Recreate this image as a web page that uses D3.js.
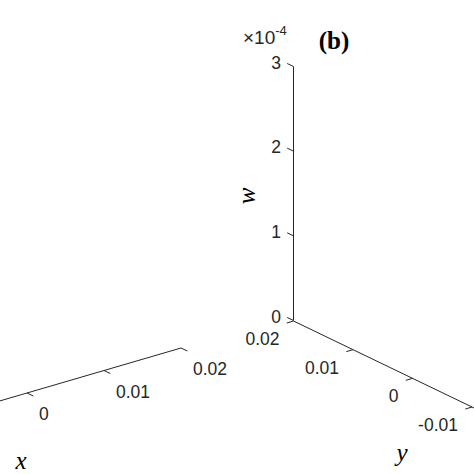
<!DOCTYPE html>
<html><head><meta charset="utf-8">
<script src="https://cdn.jsdelivr.net/npm/d3@7"></script>
<style>html,body{margin:0;padding:0;background:#fff;overflow:hidden}</style>
</head><body>
<svg id="chart" width="474" height="474"></svg>
<script>
// Data
const xTicks = [0, 0.01, 0.02];
const xTickLabels = ["0", "0.01", "0.02"];
const yTicks = [0.02, 0.01, 0, -0.01];
const yTickLabels = ["0.02", "0.01", "0", "-0.01"];
const wTicks = [0, 1, 2, 3];
const wTickLabels = ["0", "1", "2", "3"];
const xDomain = [-0.01, 0.02];
const yDomain = [0.02, -0.011];
const wDomain = [0, 3];

const svg = d3.select("#chart");
svg.append("rect").attr("width", 474).attr("height", 474).attr("fill", "#fff");
const axisColor = "#262626";
const tickFont = "'Liberation Sans', Arial, sans-serif";
const labelFont = "'Liberation Serif', 'Times New Roman', serif";

// projected scales (oblique 3D view)
const xsX = d3.scaleLinear().domain([0, 0.02]).range([27, 181]);
const xsY = d3.scaleLinear().domain([0, 0.02]).range([393, 348]);
const ysX = d3.scaleLinear().domain([0.02, -0.01]).range([293.5, 472]);
const ysY = d3.scaleLinear().domain([0.02, -0.01]).range([321, 407]);
const wsY = d3.scaleLinear().domain([0, 3]).range([320.5, 66.5]);
const wX = 293.5;

const line = d3.line();
const g = svg.append("g");

// x axis
g.append("path").attr("d", line(xDomain.map(v => [xsX(v), xsY(v)])))
  .attr("stroke", axisColor).attr("stroke-width", 1).attr("fill", "none");
xTicks.forEach((v, i) => {
  const px = xsX(v), py = xsY(v);
  g.append("line").attr("x1", px).attr("y1", py).attr("x2", px + 6.3).attr("y2", py + 3)
    .attr("stroke", axisColor).attr("stroke-width", 1);
  g.append("text").attr("x", px + 12).attr("y", py + 27)
    .attr("font-family", tickFont).attr("font-size", 17.5).attr("fill", "#262626")
    .text(xTickLabels[i]);
});

// y axis
g.append("path").attr("d", line(yDomain.map(v => [ysX(v), ysY(v)])))
  .attr("stroke", axisColor).attr("stroke-width", 1).attr("fill", "none");
yTicks.forEach((v, i) => {
  const px = ysX(v), py = ysY(v);
  g.append("line").attr("x1", px).attr("y1", py).attr("x2", px - 6.7).attr("y2", py + 2)
    .attr("stroke", axisColor).attr("stroke-width", 1);
  g.append("text").attr("x", px - 14).attr("y", py + 24).attr("text-anchor", "end")
    .attr("font-family", tickFont).attr("font-size", 17.5).attr("fill", "#262626")
    .text(yTickLabels[i]);
});

// w axis
g.append("path").attr("d", line(wDomain.map(v => [wX, wsY(v)])))
  .attr("stroke", axisColor).attr("stroke-width", 1).attr("fill", "none");
wTicks.forEach((v, i) => {
  const py = wsY(v);
  g.append("line").attr("x1", wX).attr("y1", py).attr("x2", wX - 6.3).attr("y2", py - 3)
    .attr("stroke", axisColor).attr("stroke-width", 1);
  g.append("text").attr("x", wX - 12.5).attr("y", py + 2).attr("text-anchor", "end")
    .attr("font-family", tickFont).attr("font-size", 17.5).attr("fill", "#262626")
    .text(wTickLabels[i]);
});

// exponent
const ex = g.append("text").attr("x", 243).attr("y", 44)
  .attr("font-family", tickFont).attr("font-size", 19).attr("fill", "#262626");
ex.append("tspan").text("\u00d710");
ex.append("tspan").attr("font-size", 13).attr("dy", -9).text("-4");

// panel label
g.append("text").attr("x", 334).attr("y", 49).attr("text-anchor", "middle")
  .attr("font-family", labelFont).attr("font-weight", "bold").attr("font-size", 25)
  .attr("fill", "#000").text("(b)");

// axis labels
g.append("text").attr("x", 21).attr("y", 469).attr("text-anchor", "middle")
  .attr("font-family", labelFont).attr("font-style", "italic").attr("font-size", 25)
  .attr("fill", "#000").text("x");
g.append("text").attr("x", 402).attr("y", 461).attr("text-anchor", "middle")
  .attr("font-family", labelFont).attr("font-style", "italic").attr("font-size", 25)
  .attr("fill", "#000").text("y");
g.append("text").attr("transform", "translate(255,196) rotate(-90)").attr("text-anchor", "middle")
  .attr("font-family", labelFont).attr("font-style", "italic").attr("font-size", 25)
  .attr("fill", "#000").text("w");
</script>
</body></html>
